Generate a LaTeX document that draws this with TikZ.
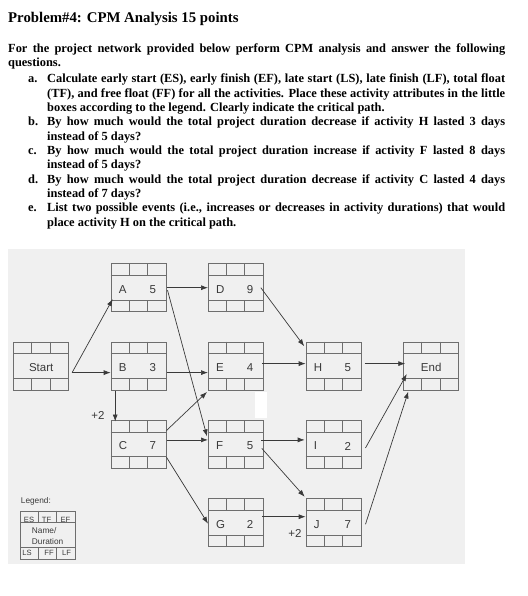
\documentclass[tikz,border=0pt]{standalone}
\usepackage{fontspec}
\setmainfont{Liberation Serif}
\setsansfont{Liberation Sans}
\usetikzlibrary{arrows.meta}
\definecolor{panel}{HTML}{F0F0F0}
\definecolor{gridgray}{HTML}{6E6E6E}
\definecolor{ink}{HTML}{3A3A3A}
\tikzset{
  boxframe/.style={draw=gridgray, line width=0.8pt, minimum width=55pt, minimum height=48pt, inner sep=0pt, anchor=north west},
  gridline/.style={draw=gridgray, line width=0.8pt},
  boxtext/.style={text=ink, inner sep=0pt, font=\sffamily\fontsize{11.5}{13}\selectfont},
  legtext/.style={text=ink, inner sep=0pt, font=\sffamily\fontsize{8.3}{10.7}\selectfont},
  celltext/.style={text=ink, inner sep=0pt, font=\sffamily\fontsize{7.6}{9}\selectfont},
  link/.style={draw=ink, line width=0.7pt, -{Latex[length=7pt,width=5pt]}},
  qline/.style={anchor=base west, inner sep=0pt, font=\bfseries\fontsize{12.4}{14}\selectfont}
}
% activity box: name, top-left corner
\newcommand{\actbox}[2]{%
  \node[boxframe] (#1) at (#2) {};
  \draw[gridline] ([yshift=-12pt]#1.north west) -- ([yshift=-12pt]#1.north east)
    ([yshift=12pt]#1.south west) -- ([yshift=12pt]#1.south east);
  \foreach \k in {18.33,36.67}
    \draw[gridline] ([xshift=\k pt]#1.north west) -- ++(0,12) ([xshift=\k pt]#1.south west) -- ++(0,-12);
}
% name and duration in the middle row
\newcommand{\actlabel}[3]{%
  \node[boxtext, anchor=west] (#1n) at ([xshift=8pt,yshift=-26pt]#1.north west) {#2};
  \node[boxtext] (#1d) at ([xshift=42pt,yshift=-26pt]#1.north west) {#3};
}
\begin{document}
\begin{tikzpicture}[x=1pt, y=-1pt]
\useasboundingbox (0,0) rectangle (527,596);

% question text
\node[qline, font=\bfseries\fontsize{14.8}{17}\selectfont] (title) at (8,23) {Problem\#4: CPM Analysis 15 points};
\node[qline] (intro1) at (8,53) {\makebox[497pt][s]{For the project network provided below perform CPM analysis and answer the following}};
\node[qline] (intro2) at (8,67) {questions.};
\node[qline] (qa) at (28,83) {a.};
\node[qline] (qa1) at (47,83) {\makebox[458pt][s]{Calculate early start (ES), early finish (EF), late start (LS), late finish (LF), total float}};
\node[qline] (qa2) at (47,97.3) {\makebox[458pt][s]{(TF), and free float (FF) for all the activities. Place these activity attributes in the little}};
\node[qline] (qa3) at (47,111.6) {boxes according to the legend. Clearly indicate the critical path.};
\node[qline] (qb) at (28,125.9) {b.};
\node[qline] (qb1) at (47,125.9) {\makebox[458pt][s]{By how much would the total project duration decrease if activity H lasted 3 days}};
\node[qline] (qb2) at (47,140.2) {instead of 5 days?};
\node[qline] (qc) at (28,154.5) {c.};
\node[qline] (qc1) at (47,154.5) {\makebox[458pt][s]{By how much would the total project duration increase if activity F lasted 8 days}};
\node[qline] (qc2) at (47,168.8) {instead of 5 days?};
\node[qline] (qd) at (28,183.1) {d.};
\node[qline] (qd1) at (47,183.1) {\makebox[458pt][s]{By how much would the total project duration decrease if activity C lasted 4 days}};
\node[qline] (qd2) at (47,197.4) {instead of 7 days?};
\node[qline] (qe) at (28,211.7) {e.};
\node[qline] (qe1) at (47,211.7) {\makebox[458pt][s]{List two possible events (i.e., increases or decreases in activity durations) that would}};
\node[qline] (qe2) at (47,226) {place activity H on the critical path.};

% network panel
\fill[panel] (8,249) rectangle (465,564);
\fill[white] (255,392) rectangle (267,418);

\actbox{Start}{13.3,341.7}
\actbox{A}{110.7,263.3}
\actbox{B}{110.7,341.7}
\actbox{C}{110.7,420}
\actbox{D}{208,263.3}
\actbox{E}{208,341.7}
\actbox{F}{208,420}
\actbox{G}{208,498.3}
\actbox{H}{305.7,341.7}
\actbox{I}{305.7,420}
\actbox{J}{305.7,498.3}
\actbox{End}{403.3,341.7}

\node[boxtext] (Startn) at ([yshift=-25.5pt]Start.north) {Start};
\node[boxtext] (Endn) at ([yshift=-25.5pt]End.north) {End};
\actlabel{A}{A}{5}
\actlabel{B}{B}{3}
\actlabel{C}{C}{7}
\actlabel{D}{D}{9}
\actlabel{E}{E}{4}
\actlabel{F}{F}{5}
\actlabel{G}{G}{2}
\actlabel{H}{H}{5}
\actlabel{I}{I}{2}
\actlabel{J}{J}{7}

% precedence links
\draw[link] ([xshift=3pt,yshift=-6.5pt]Start.east) -- ([xshift=2pt,yshift=13pt]A.south west);
\draw[link] ([xshift=3pt,yshift=-6.5pt]Start.east) -- ([yshift=-6.5pt]B.west);
\draw[link] (A.east) -- (D.west);
\draw[link] ([xshift=1pt,yshift=-2.5pt]A.east) -- ([xshift=-1pt,yshift=8pt]F.west);
\draw[link] ([xshift=-3pt]D.east) -- ([xshift=-1.5pt,yshift=-4.5pt]H.north west);
\draw[link] ([yshift=-6.5pt]B.east) -- ([yshift=-6.5pt]E.west);
\draw[link] ([xshift=-2pt,yshift=2.5pt]E.east) -- ([yshift=2.5pt]H.west);
\draw[link] ([xshift=3pt,yshift=2.5pt]H.east) -- ([xshift=2pt,yshift=2.5pt]End.west);
\draw[link] ([xshift=4.5pt]B.south west) -- ([xshift=4.5pt,yshift=-1.5pt]C.north west);
\draw[link] ([yshift=-10.5pt]C.north east) -- ([xshift=-1pt,yshift=-1.5pt]E.south west);
\draw[link] ([yshift=4.5pt]C.east) -- ([yshift=4.5pt]F.west);
\draw[link] ([yshift=11.5pt]C.south east) -- ([yshift=-1pt]G.west);
\draw[link] ([xshift=-2.5pt,yshift=4.5pt]F.east) -- ([xshift=-1pt,yshift=4.5pt]I.west);
\draw[link] ([xshift=-2pt,yshift=-4pt]F.east) -- ([xshift=-1pt,yshift=1.5pt]J.north west);
\draw[link] ([xshift=-2pt,yshift=6pt]G.east) -- ([yshift=6pt]J.west);
\draw[link] ([xshift=4pt,yshift=-3.5pt]I.east) -- ([xshift=3.5pt,yshift=16.5pt]End.south west);
\draw[link] ([xshift=4pt,yshift=-1.5pt]J.east) -- ([xshift=5pt,yshift=-1pt]End.south west);

% lags
\node[boxtext] (lagBC) at (98,415) {+2};
\node[boxtext] (lagGJ) at (295,533) {+2};

% legend
\node[legtext, anchor=west] (legtitle) at (20.7,501.7) {Legend:};
\actbox{Leg}{20,510.5}
\node[celltext, anchor=base] (legES) at ([xshift=9pt,yshift=-12pt]Leg.north west) {ES};
\node[celltext, anchor=base] (legTF) at ([xshift=26.5pt,yshift=-12pt]Leg.north west) {TF};
\node[celltext, anchor=base] (legEF) at ([xshift=45.5pt,yshift=-12pt]Leg.north west) {EF};
\node[legtext, anchor=west, align=left] (legname) at ([xshift=11.7pt,yshift=-25.8pt]Leg.north west) {Name/\\Duration};
\node[celltext] (legLS) at ([xshift=7pt,yshift=-42.5pt]Leg.north west) {LS};
\node[celltext] (legFF) at ([xshift=29pt,yshift=-42.5pt]Leg.north west) {FF};
\node[celltext] (legLF) at ([xshift=46.5pt,yshift=-42.5pt]Leg.north west) {LF};
\end{tikzpicture}
\end{document}
